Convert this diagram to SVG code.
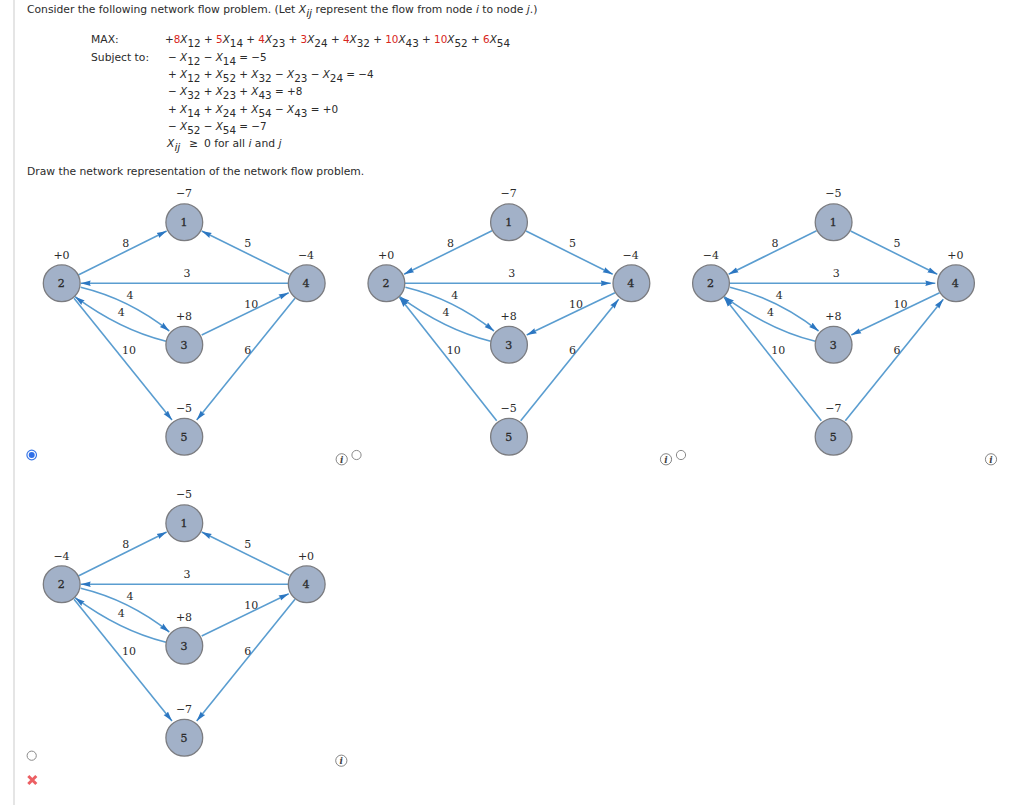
<svg xmlns="http://www.w3.org/2000/svg" width="1024" height="805" viewBox="0 0 1024 805">
<style>
.t{font-family:"DejaVu Sans",Verdana,sans-serif;font-size:10.75px;fill:#2b2b2b}
.q{font-size:10.4px}
.i{font-style:italic}
.s{baseline-shift:-3.5px}
.r{fill:#d8261c}
.e{fill:none;stroke:#5a9dd0;stroke-width:1.6;marker-end:url(#a)}
.n{fill:#a2b1c8;stroke:#7b7c80;stroke-width:1.3}
.d{font-family:"DejaVu Serif",serif;font-size:11px;fill:#2b2b2b;text-anchor:middle}
.b{stroke:#2b2b2b;stroke-width:.3}
.o{fill:#fff;stroke:#8a8a8a;stroke-width:1}
.c{fill:#fff;stroke:#666;stroke-width:.8}
.f{font-family:"DejaVu Serif",serif;font-style:italic;font-weight:bold;font-size:9px;fill:#444;text-anchor:middle}
</style>
<defs>
<marker id="a" markerUnits="userSpaceOnUse" markerWidth="11" markerHeight="8" refX="10" refY="4" orient="auto"><path d="M0 1.2L10 4L0 6.8L1 4Z" fill="#2c77c2"/></marker>
</defs>
<rect width="1024" height="805" fill="#fff"/>
<path d="M14 0V805" stroke="#d4d4d4" stroke-width="1.2"/>
<text class="t" x="27" y="13">Consider the following network flow problem. (Let <tspan class="i">X</tspan><tspan class="i s">ij</tspan> represent the flow from node <tspan class="i">i</tspan> to node <tspan class="i">j</tspan>.)</text>
<text class="t" x="91" y="43">MAX:</text>
<text class="t" x="91" y="61">Subject to:</text>
<text class="t q" x="165" y="43">+<tspan class="r">8</tspan><tspan class="i">X</tspan><tspan class="s">12</tspan> + <tspan class="r">5</tspan><tspan class="i">X</tspan><tspan class="s">14</tspan> + <tspan class="r">4</tspan><tspan class="i">X</tspan><tspan class="s">23</tspan> + <tspan class="r">3</tspan><tspan class="i">X</tspan><tspan class="s">24</tspan> + <tspan class="r">4</tspan><tspan class="i">X</tspan><tspan class="s">32</tspan> + <tspan class="r">10</tspan><tspan class="i">X</tspan><tspan class="s">43</tspan> + <tspan class="r">10</tspan><tspan class="i">X</tspan><tspan class="s">52</tspan> + <tspan class="r">6</tspan><tspan class="i">X</tspan><tspan class="s">54</tspan></text>
<text class="t q" x="168" y="61">− <tspan class="i">X</tspan><tspan class="s">12</tspan> − <tspan class="i">X</tspan><tspan class="s">14</tspan> = −5</text>
<text class="t q" x="168" y="78">+ <tspan class="i">X</tspan><tspan class="s">12</tspan> + <tspan class="i">X</tspan><tspan class="s">52</tspan> + <tspan class="i">X</tspan><tspan class="s">32</tspan> − <tspan class="i">X</tspan><tspan class="s">23</tspan> − <tspan class="i">X</tspan><tspan class="s">24</tspan> = −4</text>
<text class="t q" x="168" y="95">− <tspan class="i">X</tspan><tspan class="s">32</tspan> + <tspan class="i">X</tspan><tspan class="s">23</tspan> + <tspan class="i">X</tspan><tspan class="s">43</tspan> = +8</text>
<text class="t q" x="168" y="113">+ <tspan class="i">X</tspan><tspan class="s">14</tspan> + <tspan class="i">X</tspan><tspan class="s">24</tspan> + <tspan class="i">X</tspan><tspan class="s">54</tspan> − <tspan class="i">X</tspan><tspan class="s">43</tspan> = +0</text>
<text class="t q" x="168" y="130">− <tspan class="i">X</tspan><tspan class="s">52</tspan> − <tspan class="i">X</tspan><tspan class="s">54</tspan> = −7</text>
<text class="t" x="167" y="147"><tspan class="i">X</tspan><tspan class="i s">ij</tspan><tspan x="189">≥</tspan><tspan x="204">0 for all </tspan><tspan class="i">i</tspan> and <tspan class="i">j</tspan></text>
<text class="t" x="27" y="175">Draw the network representation of the network flow problem.</text>

<g id="panel1">
<g id="p1-connectors">
<path class="e" d="M78.3 275L166.7 231"/>
<path class="e" d="M289.3 274.3L201.7 231"/>
<path class="e" d="M288.7 283.3H80.7"/>
<path class="e" d="M80.7 287.3Q129 299 169.3 331"/>
<path class="e" d="M166 341.3Q120 330 75 296.7"/>
<path class="e" d="M201.7 335L288.7 292.7"/>
<path class="e" d="M74 298.3L172 420"/>
<path class="e" d="M295 298.3L196.7 420"/>
</g>
<g id="p1-labels">
<text class="d" x="125.7" y="246.5">8</text><text class="d" x="247.7" y="246.5">5</text><text class="d" x="187" y="276.5">3</text><text class="d" x="130" y="299">4</text><text class="d" x="121.3" y="316">4</text><text class="d" x="251.3" y="308">10</text><text class="d" x="129" y="353.5">10</text><text class="d" x="247.7" y="353.5">6</text>
</g>
<g id="p1-n1"><circle class="n" cx="184.3" cy="222.3" r="18.4"/><text class="d b" x="184" y="226">1</text><text class="d" x="184" y="197">−7</text></g>
<g id="p1-n2"><circle class="n" cx="61.7" cy="283.3" r="18.4"/><text class="d b" x="61.3" y="287">2</text><text class="d" x="61.5" y="259">+0</text></g>
<g id="p1-n3"><circle class="n" cx="184.3" cy="344.7" r="18.4"/><text class="d b" x="184" y="348.5">3</text><text class="d" x="184" y="320">+8</text></g>
<g id="p1-n4"><circle class="n" cx="306.7" cy="283.3" r="18.4"/><text class="d b" x="306" y="287">4</text><text class="d" x="306" y="259">−4</text></g>
<g id="p1-n5"><circle class="n" cx="184.3" cy="436.7" r="18.4"/><text class="d b" x="184" y="440.5">5</text><text class="d" x="184" y="411.5">−5</text></g>
</g>

<g id="panel2" transform="translate(324.7 0)">
<g id="p2-connectors">
<path class="e" d="M167.3 230.7L79.3 274.3"/>
<path class="e" d="M201.3 231L288 274.3"/>
<path class="e" d="M80 283.3H286"/>
<path class="e" d="M80.7 287.3Q129 299 169.3 331"/>
<path class="e" d="M166 341.3Q120 330 75 296.7"/>
<path class="e" d="M290.3 292.7L202 335"/>
<path class="e" d="M172 420.7L74.7 297.3"/>
<path class="e" d="M196 420.7L294 299.3"/>
</g>
<g id="p2-labels">
<text class="d" x="125.7" y="246.5">8</text><text class="d" x="247.7" y="246.5">5</text><text class="d" x="187" y="276.5">3</text><text class="d" x="130" y="299">4</text><text class="d" x="121.3" y="316">4</text><text class="d" x="251.3" y="308">10</text><text class="d" x="129" y="353.5">10</text><text class="d" x="247.7" y="353.5">6</text>
</g>
<g id="p2-n1"><circle class="n" cx="184.3" cy="222.3" r="18.4"/><text class="d b" x="184" y="226">1</text><text class="d" x="184" y="197">−7</text></g>
<g id="p2-n2"><circle class="n" cx="61.7" cy="283.3" r="18.4"/><text class="d b" x="61.3" y="287">2</text><text class="d" x="61.5" y="259">+0</text></g>
<g id="p2-n3"><circle class="n" cx="184.3" cy="344.7" r="18.4"/><text class="d b" x="184" y="348.5">3</text><text class="d" x="184" y="320">+8</text></g>
<g id="p2-n4"><circle class="n" cx="306.7" cy="283.3" r="18.4"/><text class="d b" x="306" y="287">4</text><text class="d" x="306" y="259">−4</text></g>
<g id="p2-n5"><circle class="n" cx="184.3" cy="436.7" r="18.4"/><text class="d b" x="184" y="440.5">5</text><text class="d" x="184" y="411.5">−5</text></g>
</g>

<g id="panel3" transform="translate(649.3 0)">
<g id="p3-connectors">
<path class="e" d="M167.3 230.7L79.3 274.3"/>
<path class="e" d="M201.3 231L288 274.3"/>
<path class="e" d="M80 283.3H286"/>
<path class="e" d="M80.7 287.3Q129 299 169.3 331"/>
<path class="e" d="M166 341.3Q120 330 75 296.7"/>
<path class="e" d="M290.3 292.7L202 335"/>
<path class="e" d="M172 420.7L74.7 297.3"/>
<path class="e" d="M196 420.7L294 299.3"/>
</g>
<g id="p3-labels">
<text class="d" x="125.7" y="246.5">8</text><text class="d" x="247.7" y="246.5">5</text><text class="d" x="187" y="276.5">3</text><text class="d" x="130" y="299">4</text><text class="d" x="121.3" y="316">4</text><text class="d" x="251.3" y="308">10</text><text class="d" x="129" y="353.5">10</text><text class="d" x="247.7" y="353.5">6</text>
</g>
<g id="p3-n1"><circle class="n" cx="184.3" cy="222.3" r="18.4"/><text class="d b" x="184" y="226">1</text><text class="d" x="184" y="197">−5</text></g>
<g id="p3-n2"><circle class="n" cx="61.7" cy="283.3" r="18.4"/><text class="d b" x="61.3" y="287">2</text><text class="d" x="61.5" y="259">−4</text></g>
<g id="p3-n3"><circle class="n" cx="184.3" cy="344.7" r="18.4"/><text class="d b" x="184" y="348.5">3</text><text class="d" x="184" y="320">+8</text></g>
<g id="p3-n4"><circle class="n" cx="306.7" cy="283.3" r="18.4"/><text class="d b" x="306" y="287">4</text><text class="d" x="306" y="259">+0</text></g>
<g id="p3-n5"><circle class="n" cx="184.3" cy="436.7" r="18.4"/><text class="d b" x="184" y="440.5">5</text><text class="d" x="184" y="411.5">−7</text></g>
</g>

<g id="panel4" transform="translate(0 301)">
<g id="p4-connectors">
<path class="e" d="M78.3 275L166.7 231"/>
<path class="e" d="M289.3 274.3L201.7 231"/>
<path class="e" d="M288.7 283.3H80.7"/>
<path class="e" d="M80.7 287.3Q129 299 169.3 331"/>
<path class="e" d="M166 341.3Q120 330 75 296.7"/>
<path class="e" d="M201.7 335L288.7 292.7"/>
<path class="e" d="M74 298.3L172 420"/>
<path class="e" d="M295 298.3L196.7 420"/>
</g>
<g id="p4-labels">
<text class="d" x="125.7" y="246.5">8</text><text class="d" x="247.7" y="246.5">5</text><text class="d" x="187" y="276.5">3</text><text class="d" x="130" y="299">4</text><text class="d" x="121.3" y="316">4</text><text class="d" x="251.3" y="308">10</text><text class="d" x="129" y="353.5">10</text><text class="d" x="247.7" y="353.5">6</text>
</g>
<g id="p4-n1"><circle class="n" cx="184.3" cy="222.3" r="18.4"/><text class="d b" x="184" y="226">1</text><text class="d" x="184" y="197">−5</text></g>
<g id="p4-n2"><circle class="n" cx="61.7" cy="283.3" r="18.4"/><text class="d b" x="61.3" y="287">2</text><text class="d" x="61.5" y="259">−4</text></g>
<g id="p4-n3"><circle class="n" cx="184.3" cy="344.7" r="18.4"/><text class="d b" x="184" y="348.5">3</text><text class="d" x="184" y="320">+8</text></g>
<g id="p4-n4"><circle class="n" cx="306.7" cy="283.3" r="18.4"/><text class="d b" x="306" y="287">4</text><text class="d" x="306" y="259">+0</text></g>
<g id="p4-n5"><circle class="n" cx="184.3" cy="436.7" r="18.4"/><text class="d b" x="184" y="440.5">5</text><text class="d" x="184" y="411.5">−7</text></g>
</g>

<g id="controls">
<circle cx="31.7" cy="455" r="4.8" fill="#fff" stroke="#3b78e7" stroke-width="1.2"/><circle cx="31.7" cy="455" r="3" fill="#2f6fe8"/>
<circle class="o" cx="356.5" cy="455" r="4.6"/>
<circle class="o" cx="681" cy="455" r="4.6"/>
<circle class="o" cx="31.7" cy="755.7" r="4.6"/>
<path d="M28.3 776L36.3 784M36.3 776L28.3 784" stroke="#ec5f63" stroke-width="3"/>
<circle class="c" cx="341.7" cy="459.3" r="5.6"/><text class="f" x="341.7" y="462.5">i</text>
<circle class="c" cx="666" cy="459.3" r="5.6"/><text class="f" x="666" y="462.5">i</text>
<circle class="c" cx="991" cy="459.3" r="5.6"/><text class="f" x="991" y="462.5">i</text>
<circle class="c" cx="341.3" cy="760.7" r="5.6"/><text class="f" x="341.3" y="763.9">i</text>
</g>
</svg>
